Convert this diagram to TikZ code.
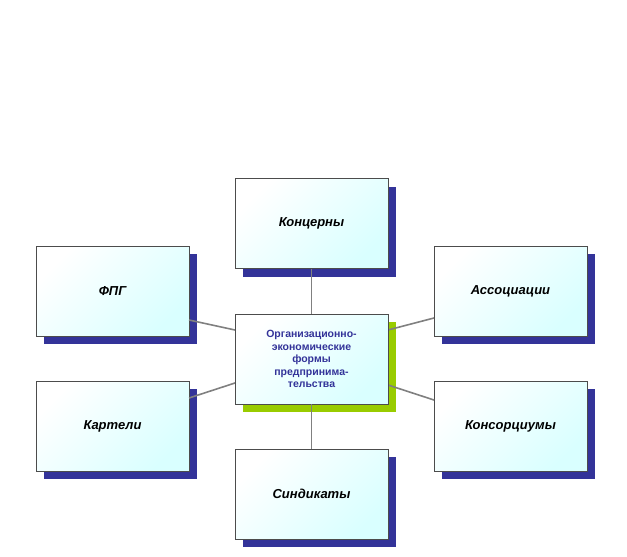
\documentclass[tikz,border=0pt]{standalone}
\usepackage{fontspec}
\setmainfont{Liberation Sans}
\begin{document}
\begin{tikzpicture}[x=1pt,y=-1pt,
  box/.style={draw=black!70,line width=0.6pt,left color=white,right color=cyan!15!white,shading angle=45,minimum width=153pt,minimum height=90pt,inner sep=2pt,font=\bfseries\itshape\fontsize{13}{15}\selectfont},
  con/.style={draw=gray,line width=1.6pt}]
\useasboundingbox (0,0) rectangle (627,557);
\definecolor{shblue}{RGB}{51,51,153}
\definecolor{shgreen}{RGB}{153,204,0}
\foreach \x/\y in {235/179,36/246,434/246,36/381,434/381,235/449}
  \fill[shblue] (\x+8,\y+8) rectangle (\x+161,\y+98);
\fill[shgreen] (243,322) rectangle (396,412);
\node[box] (k) at (311.5,223.5) {Концерны};
\node[box] (f) at (112.5,291) {ФПГ};
\node[box] (a) at (510.5,291) {Ассоциации};
\node[box] (c) at (112.5,426) {Картели};
\node[box] (s) at (510.5,426) {Консорциумы};
\node[box] (d) at (311.5,494) {Синдикаты};
\coordinate (fe) at (189,320); \coordinate (ce) at (189,398);
\coordinate (ae) at (434,318); \coordinate (se) at (434,400);
\coordinate (cl1) at (235,330); \coordinate (cl2) at (235,383);
\coordinate (cr1) at (388,330); \coordinate (cr2) at (388,385);
\draw[con] (fe) -- (cl1); \draw[con] (ce) -- (cl2);
\draw[con] (ae) -- (cr1); \draw[con] (se) -- (cr2);
\node[box,font=\bfseries\fontsize{10.5}{12.5}\selectfont,text=shblue,align=center] (m) at (311.5,359) {Организационно-\\экономические\\формы\\предпринима-\\тельства};
\draw[con] (k.south) -- (m.north);
\draw[con] (m.south) -- (d.north);
\end{tikzpicture}
\end{document}
